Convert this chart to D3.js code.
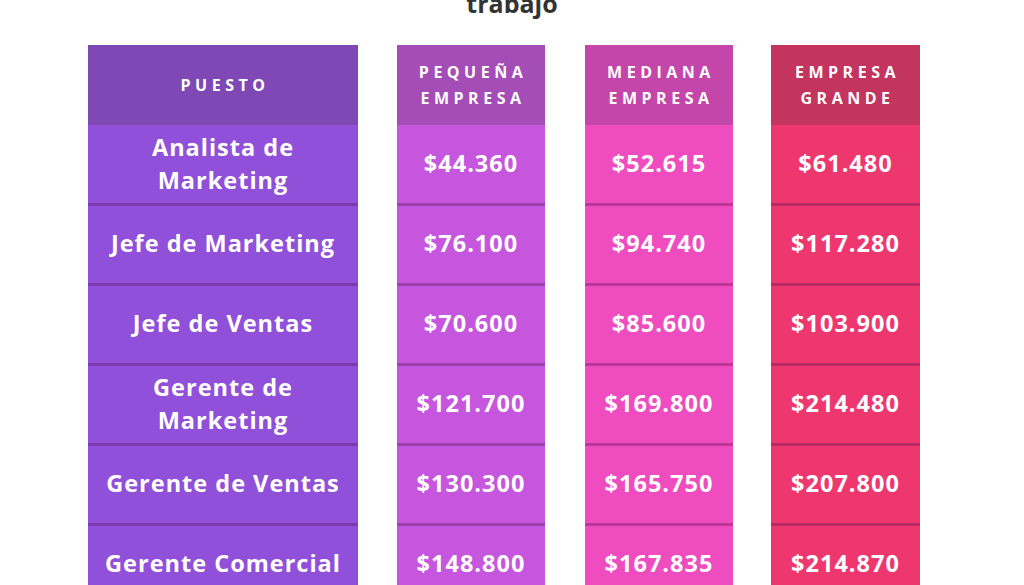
<!DOCTYPE html>
<html><head><meta charset="utf-8">
<script src="https://cdn.jsdelivr.net/npm/d3@7"></script>
<style>body{margin:0;background:#fff}svg{display:block}</style>
</head><body><svg id="c" width="1024" height="585"></svg>
<script>
const puestos = ["Analista de|Marketing","Jefe de Marketing","Jefe de Ventas","Gerente de|Marketing","Gerente de Ventas","Gerente Comercial"];
const headers = ["PUESTO","PEQUEÑA|EMPRESA","MEDIANA|EMPRESA","EMPRESA|GRANDE"];
const pequena = [44360,76100,70600,121700,130300,148800];
const mediana = [52615,94740,85600,169800,165750,167835];
const grande = [61480,117280,103900,214480,207800,214870];
const headColors = ["#7e48b5","#a54db7","#c446aa","#c3345f"];
const bodyColors = ["#9150da","#c756de","#ee4cbf","#ee376f"];
const colX = [[88,358],[397,545],[585,733],[771,920]];

const svg = d3.select("#c");
const y = d3.scaleBand().domain(d3.range(6)).range([125,125+6*80]);
const fmt = v => "$" + d3.format(",")(v).replace(/,/g,".");
const cols = [puestos, pequena.map(fmt), mediana.map(fmt), grande.map(fmt)];

svg.append("text").attr("x",512).attr("y",13).attr("text-anchor","middle")
  .attr("font-family","Open Sans").attr("font-weight",700).attr("font-size",25).attr("fill","#333").text("trabajo");

cols.forEach((col,ci)=>{
  const [x0,x1]=colX[ci], cx=(x0+x1)/2, g=svg.append("g");
  g.append("rect").attr("x",x0).attr("y",45).attr("width",x1-x0).attr("height",80).attr("fill",headColors[ci]);
  g.append("rect").attr("x",x0).attr("y",125).attr("width",x1-x0).attr("height",470).attr("fill",bodyColors[ci]);
  const hl = headers[ci].split("|");
  hl.forEach((t,i)=>g.append("text").attr("x",cx+2).attr("y",85+6+(i-(hl.length-1)/2)*26)
    .attr("text-anchor","middle").attr("font-family","Open Sans").attr("font-weight",700)
    .attr("font-size",16).attr("letter-spacing","4.5px").attr("fill","#fff").text(t));
  col.forEach((v,ri)=>{
    const yc = y(ri)+y.bandwidth()/2;
    if(ri>0) g.append("rect").attr("x",x0).attr("y",y(ri)-2).attr("width",x1-x0).attr("height",3).attr("fill","rgba(90,20,90,0.35)");
    const lines = String(v).split("|");
    lines.forEach((t,i)=>g.append("text").attr("x",cx).attr("y",yc+7+(i-(lines.length-1)/2)*33)
      .attr("text-anchor","middle").attr("font-family","Open Sans").attr("font-weight",700)
      .attr("font-size",23.5).attr("letter-spacing","1px").attr("fill","#fff").text(t));
  });
});
</script></body></html>
